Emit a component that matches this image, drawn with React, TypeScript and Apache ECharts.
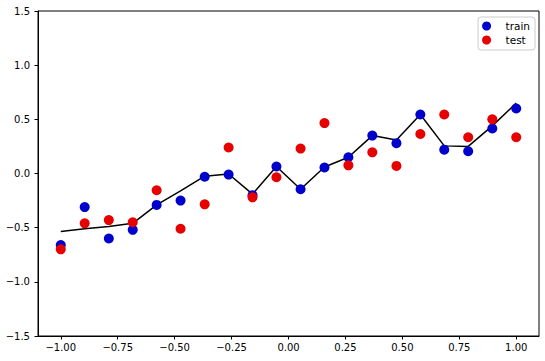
import React, { useEffect, useRef } from "react";
import * as echarts from "echarts";

const xs = [-1.0, -0.895, -0.789, -0.684, -0.579, -0.474, -0.368, -0.263, -0.158, -0.053, 0.053, 0.158, 0.263, 0.368, 0.474, 0.579, 0.684, 0.789, 0.895, 1.0];
const trainY = [-0.66, -0.31, -0.60, -0.52, -0.29, -0.25, -0.03, -0.01, -0.20, 0.065, -0.145, 0.055, 0.15, 0.35, 0.28, 0.545, 0.22, 0.205, 0.415, 0.60];
const testY = [-0.70, -0.46, -0.43, -0.45, -0.155, -0.51, -0.285, 0.24, -0.22, -0.035, 0.23, 0.465, 0.075, 0.195, 0.07, 0.365, 0.545, 0.335, 0.50, 0.335];
const fitY = [-0.535, -0.51, -0.49, -0.46, -0.29, -0.16, -0.025, -0.005, -0.19, 0.065, -0.145, 0.06, 0.15, 0.35, 0.31, 0.545, 0.255, 0.25, 0.44, 0.65];
const xTicks = [-1.0, -0.75, -0.5, -0.25, 0.0, 0.25, 0.5, 0.75, 1.0];

const fmt = (v: number, d: number) => (v < -1e-9 ? "\u2212" : "") + Math.abs(v).toFixed(d);

export default function App() {
  const ref = useRef<HTMLDivElement>(null);
  useEffect(() => {
    const chart = echarts.init(ref.current!, null, { renderer: "svg" });
    const font = { fontFamily: "DejaVu Sans", fontSize: 10, color: "#000" };
    chart.setOption({
      animation: false,
      backgroundColor: "#fff",
      grid: { left: 38, right: 6, top: 11, bottom: 25, show: true, borderColor: "#000", borderWidth: 1, backgroundColor: "transparent" },
      legend: {
        data: ["train", "test"],
        orient: "vertical",
        right: 10,
        top: 17,
        icon: "circle",
        itemWidth: 20,
        itemHeight: 9,
        itemGap: 2,
        padding: [3, 5, 4, 4],
        borderColor: "#cccccc",
        borderWidth: 1,
        borderRadius: 3,
        backgroundColor: "rgba(255,255,255,0.8)",
        textStyle: { ...font, fontSize: 10.5, lineHeight: 12, padding: [0, 0, 0, 4] },
      },
      xAxis: {
        type: "value",
        min: -1.1,
        max: 1.1,
        splitLine: { show: false },
        axisLine: { show: true, onZero: false, lineStyle: { color: "#000", width: 1 } },
        axisTick: { show: true, length: 3.5, customValues: xTicks, lineStyle: { color: "#000" } },
        axisLabel: { ...font, margin: 6, customValues: xTicks, formatter: (v: number) => fmt(v, 2) },
      },
      yAxis: {
        type: "value",
        min: -1.5,
        max: 1.5,
        interval: 0.5,
        splitLine: { show: false },
        axisLine: { show: true, onZero: false, lineStyle: { color: "#000", width: 1 } },
        axisTick: { show: true, length: 3.5, lineStyle: { color: "#000" } },
        axisLabel: { ...font, margin: 8, formatter: (v: number) => fmt(v, 1) },
      },
      series: [
        {
          name: "fit",
          type: "line",
          data: xs.map((x, i) => [x, fitY[i]]),
          showSymbol: false,
          symbol: "none",
          lineStyle: { color: "#000", width: 1.5 },
          z: 1,
        },
        {
          name: "train",
          type: "scatter",
          data: xs.map((x, i) => [x, trainY[i]]),
          symbolSize: 10,
          itemStyle: { color: "#0000cc", opacity: 1 },
          z: 2,
        },
        {
          name: "test",
          type: "scatter",
          data: xs.map((x, i) => [x, testY[i]]),
          symbolSize: 10,
          itemStyle: { color: "#e60000", opacity: 1 },
          z: 3,
        },
      ],
    });
    return () => chart.dispose();
  }, []);
  return <div ref={ref} style={{ width: 545, height: 361, position: "fixed", left: 0, top: 0 }} />;
}
